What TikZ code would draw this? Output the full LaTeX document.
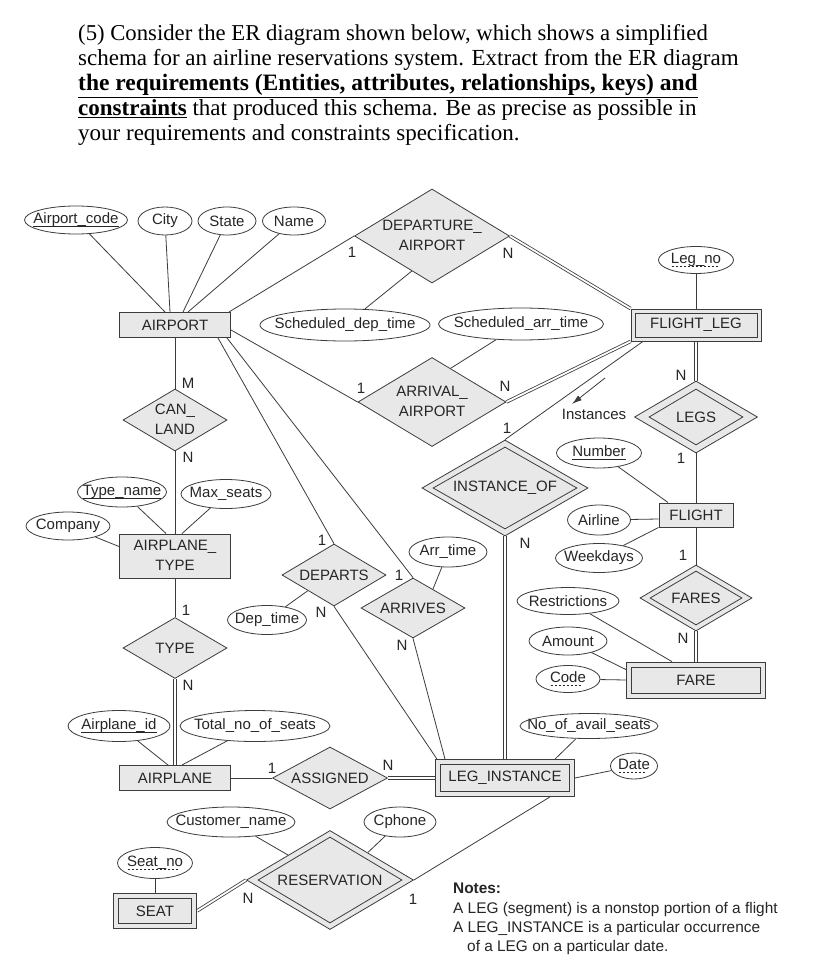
\documentclass[tikz,border=0pt]{standalone}
\usepackage{fontspec}
\setmainfont{Liberation Sans}
\newfontfamily\hdr{Liberation Serif}
\usetikzlibrary{shapes.geometric,calc,arrows.meta,backgrounds}
\definecolor{fillg}{HTML}{E8E8E8}
\definecolor{linec}{HTML}{3C3C3C}
\definecolor{txtc}{HTML}{262626}
\newcommand\zb[1]{\makebox[0pt]{#1}}
\newcommand\twol[2]{\raisebox{-2.5pt}{\makebox[0pt]{\begin{tabular}{@{}c@{}}#1\\#2\end{tabular}}}}
\newcommand\sul[1]{{\setbox0\hbox{#1}\rlap{\vrule height -2.3pt depth 3.3pt width \wd0}\box0}}
\newcommand\dul[1]{{\setbox0\hbox{#1}\rlap{\hbox to\wd0{\leaders\hbox to 4pt{\hss\vrule height -2.3pt depth 3.2pt width 2.6pt\hss}\hfill}}\box0}}
\tikzset{
 basefig/.style={draw=linec, line width=0.8pt, inner sep=0pt, text=txtc, font=\fontsize{15}{20}\selectfont},
 ent/.style={basefig, rectangle, fill=fillg, line width=1pt},
 went/.style={basefig, rectangle, fill=fillg},
 wentin/.style={draw=linec, line width=0.8pt, rectangle, inner sep=0pt},
 rel/.style={basefig, diamond, fill=fillg},
 wrelin/.style={draw=linec, line width=0.8pt, diamond, inner sep=0pt},
 attr/.style={basefig, ellipse, fill=white},
 conn/.style={draw=linec, line width=0.8pt},
 dconn/.style={conn, double=white, double distance=1.8pt},
 card/.style={text=txtc, font=\fontsize{15}{18}\selectfont, inner sep=0pt},
 hd/.style={anchor=base west, inner sep=0pt, text=black, font=\hdr\fontsize{23}{26}\selectfont},
 note/.style={anchor=base west, inner sep=0pt, text=txtc, font=\fontsize{15.4}{19}\selectfont},
}
\begin{document}
\begin{tikzpicture}[x=1pt,y=-1pt]
\useasboundingbox (0,0) rectangle (819,960);

% header
\node[hd, font=\hdr\fontsize{22.7}{26}\selectfont] (h1) at (78,41) {(5) Consider the ER diagram shown below, which shows a simplified};
\node[hd] (h2) at (78,66) {schema for an airline reservations system. Extract from the ER diagram};
\node[hd, font=\hdr\fontsize{23.5}{26}\selectfont] (h3) at (78,91) {\underline{\textbf{the requirements (Entities, attributes, relationships, keys) and}}};
\node[hd] (h4) at (78,116) {\underline{\textbf{constraints}} that produced this schema. Be as precise as possible in};
\node[hd] (h5) at (78,141) {your requirements and constraints specification.};

% entities
\node[ent, minimum width=111pt, minimum height=25pt] (ap) at (175,325) {AIRPORT};
\node[went, minimum width=130pt, minimum height=32pt] (fl) at (696,325) {FLIGHT\_LEG};
\node[wentin, minimum width=122pt, minimum height=24pt] (flin) at (fl) {};
\node[ent, minimum width=74pt, minimum height=24pt] (flight) at (696,515) {FLIGHT};
\node[went, minimum width=139pt, minimum height=36pt] (fare) at (696,680) {FARE};
\node[wentin, minimum width=129pt, minimum height=26pt] (farein) at (fare) {};
\node[went, minimum width=139pt, minimum height=37pt] (li) at (505,778) {LEG\_INSTANCE};
\node[wentin, minimum width=129pt, minimum height=27pt] (liin) at (li) {};
\node[ent, minimum width=111pt, minimum height=44pt] (apt) at (175,556) {\twol{AIRPLANE\_}{TYPE}};
\node[ent, minimum width=111pt, minimum height=25pt] (apl) at (175,778) {AIRPLANE};
\node[went, minimum width=83pt, minimum height=35pt] (seat) at (155,911) {SEAT};
\node[wentin, minimum width=73pt, minimum height=25pt] (seatin) at (seat) {};

% relationships
\node[rel, minimum width=155pt, minimum height=94pt] (dep) at (432,236) {\twol{DEPARTURE\_}{AIRPORT}};
\node[rel, minimum width=148pt, minimum height=89pt] (arr) at (432,402) {\twol{ARRIVAL\_}{AIRPORT}};
\node[rel, minimum width=166pt, minimum height=96pt] (inst) at (505,488) {\zb{INSTANCE\_OF}};
\node[wrelin, minimum width=144pt, minimum height=82pt] (instin) at (inst) {};
\node[rel, minimum width=123pt, minimum height=72pt] (legs) at (696,417) {\zb{LEGS}};
\node[wrelin, minimum width=94pt, minimum height=56pt] (legsin) at (legs) {};
\node[rel, minimum width=112pt, minimum height=66pt] (fares) at (696,598) {\zb{FARES}};
\node[wrelin, minimum width=92pt, minimum height=54pt] (faresin) at (fares) {};
\node[rel, minimum width=167pt, minimum height=99pt] (res) at (330,880) {\zb{RESERVATION}};
\node[wrelin, minimum width=144pt, minimum height=86pt] (resin) at (res) {};
\node[rel, minimum width=104pt, minimum height=62pt] (canland) at (175,420) {\twol{CAN\_}{LAND}};
\node[rel, minimum width=104pt, minimum height=61pt] (type) at (175,648) {\zb{TYPE}};
\node[rel, minimum width=104pt, minimum height=62pt] (departs) at (334,575) {\zb{DEPARTS}};
\node[rel, minimum width=104pt, minimum height=60pt] (arrives) at (413,608) {\zb{ARRIVES}};
\node[rel, minimum width=115pt, minimum height=62pt] (asg) at (330,778) {\zb{ASSIGNED}};

% attributes
\node[attr, minimum width=103pt, minimum height=28pt] (ac) at (76,220) {\zb{\sul{Airport\_code}}};
\node[attr, minimum width=54pt, minimum height=28pt] (city) at (165,221) {\zb{City}};
\node[attr, minimum width=58pt, minimum height=28pt] (state) at (227,221) {\zb{State}};
\node[attr, minimum width=63pt, minimum height=28pt] (name) at (294,221) {\zb{Name}};
\node[attr, minimum width=170pt, minimum height=32pt] (sdt) at (345,325) {\zb{Scheduled\_dep\_time}};
\node[attr, minimum width=165pt, minimum height=32pt] (sat) at (521,324) {\zb{Scheduled\_arr\_time}};
\node[attr, minimum width=75pt, minimum height=27pt] (legno) at (696,260) {\zb{\dul{Leg\_no}}};
\node[attr, minimum width=85pt, minimum height=30pt] (num) at (599,453) {\zb{\sul{Number}}};
\node[attr, minimum width=63pt, minimum height=30pt] (airline) at (599,520) {\zb{Airline}};
\node[attr, minimum width=87pt, minimum height=29pt] (weekdays) at (599,558) {\zb{Weekdays}};
\node[attr, minimum width=102pt, minimum height=27pt] (restr) at (568,601) {\zb{Restrictions}};
\node[attr, minimum width=78pt, minimum height=28pt] (amount) at (568,641) {\zb{Amount}};
\node[attr, minimum width=64pt, minimum height=27pt] (code) at (568,679) {\zb{\dul{Code}}};
\node[attr, minimum width=138pt, minimum height=25pt] (avail) at (589,726) {\zb{No\_of\_avail\_seats}};
\node[attr, minimum width=47pt, minimum height=26pt] (date) at (634,766) {\zb{\dul{Date}}};
\node[attr, minimum width=78pt, minimum height=30pt] (arrtime) at (448,552) {\zb{Arr\_time}};
\node[attr, minimum width=79pt, minimum height=29pt] (deptime) at (267,620) {\zb{Dep\_time}};
\node[attr, minimum width=89pt, minimum height=30pt] (typename) at (122,492) {\zb{\sul{Type\_name}}};
\node[attr, minimum width=90pt, minimum height=29pt] (maxseats) at (226,494) {\zb{Max\_seats}};
\node[attr, minimum width=84pt, minimum height=28pt] (company) at (68,526) {\zb{Company}};
\node[attr, minimum width=102pt, minimum height=31pt] (aplid) at (119,726) {\zb{\sul{Airplane\_id}}};
\node[attr, minimum width=150pt, minimum height=31pt] (totseats) at (255,726) {\zb{Total\_no\_of\_seats}};
\node[attr, minimum width=128pt, minimum height=30pt] (cname) at (231,822) {\zb{Customer\_name}};
\node[attr, minimum width=72pt, minimum height=30pt] (cphone) at (400,822) {\zb{Cphone}};
\node[attr, minimum width=75pt, minimum height=31pt] (seatno) at (155,863) {\zb{\dul{Seat\_no}}};

% instances arrow
\coordinate (ia) at (605,378);
\coordinate (ib) at (572,404);
\node[card] (instl) at (594,414) {Instances};

% cardinalities
\node[card] (k1) at (352,252) {1};
\node[card] (k2) at (508,253) {N};
\node[card] (k3) at (361,388) {1};
\node[card] (k4) at (505,386) {N};
\node[card] (k5) at (507,428) {1};
\node[card] (k6) at (681,375) {N};
\node[card] (k7) at (681,458) {1};
\node[card] (k8) at (525,543) {N};
\node[card] (k9) at (683,555) {1};
\node[card] (k10) at (683,638) {N};
\node[card] (k11) at (188,383) {M};
\node[card] (k12) at (188,457) {N};
\node[card] (k13) at (186,610) {1};
\node[card] (k14) at (188,685) {N};
\node[card] (k15) at (322,540) {1};
\node[card] (k16) at (399,575) {1};
\node[card] (k17) at (321,612) {N};
\node[card] (k18) at (402,645) {N};
\node[card] (k19) at (272,768) {1};
\node[card] (k20) at (388,765) {N};
\node[card] (k21) at (248,898) {N};
\node[card] (k22) at (413,899) {1};

% notes
\node[note] (n1) at (453,893) {\textbf{Notes:}};
\node[note] (n2) at (453,913) {A LEG (segment) is a nonstop portion of a flight};
\node[note] (n3) at (453,932) {A LEG\_INSTANCE is a particular occurrence};
\node[note] (n4) at (467,951) {of a LEG on a particular date.};

\begin{pgfonlayer}{background}
\fill[white] (0,0) rectangle (819,960);
\draw[conn] (ac) -- ([xshift=-10pt]ap.north);
\draw[conn] (city) -- ([xshift=-5pt]ap.north);
\draw[conn] (state) -- ([xshift=8pt]ap.north);
\draw[conn] (name) -- ([xshift=13pt]ap.north);
\draw[conn] ([xshift=-2pt]ap.north east) -- (dep.west);
\draw[dconn] (dep.east) -- (fl.north west);
\draw[conn] (sdt) -- ($(dep.south)!0.26!(dep.west)$);
\draw[conn] ([yshift=-5pt]ap.east) -- (arr.west);
\draw[dconn] (arr.east) -- (fl.south west);
\draw[conn] (sat) -- ($(arr.north)!0.25!(arr.east)$);
\draw[conn] (legno) -- (fl);
\draw[conn] ([xshift=-53pt]fl.south) -- (inst.north);
\draw[conn, -{Latex[length=10pt,width=6pt]}] (ia) -- (ib);
\draw[dconn] (fl.south) -- (legs.north);
\draw[conn] (legs.south) -- (flight.north);
\draw[conn] (num) -- ([xshift=-28pt]flight.north);
\draw[conn] (airline) -- ([yshift=-4pt]flight.west);
\draw[conn] (weekdays) -- (flight.south west);
\draw[conn] (flight.south) -- (fares.north);
\draw[dconn] (fares.south) -- (fare.north);
\draw[conn] (restr) -- ([xshift=-24pt]fare.north);
\draw[conn] (amount) -- ([yshift=-8pt]fare.north west);
\draw[conn] (code) -- (fare.west);
\draw[dconn] (inst.south) -- (li.north);
\draw[conn] (avail) -- ([xshift=50pt]li.north);
\draw[conn] (date) -- (li.east);
\draw[conn] ([xshift=45pt]li.south) -- (res.east);
\draw[conn] ([xshift=43pt]ap.south) -- (departs.north);
\draw[conn] ([xshift=52pt]ap.south) -- (arrives.north);
\draw[conn] (departs.south) -- ([xshift=-68pt]li.north);
\draw[conn] (arrives.south) -- ([xshift=-60pt]li.north);
\draw[conn] (arrtime) -- ($(arrives.north)!0.38!(arrives.east)$);
\draw[conn] (deptime) -- ($(departs.south)!0.5!(departs.west)$);
\draw[conn] (ap.south) -- (canland.north);
\draw[conn] (canland.south) -- (apt.north);
\draw[conn] (typename) -- ([xshift=-9pt]apt.north);
\draw[conn] (maxseats) -- ([xshift=7pt]apt.north);
\draw[conn] (company) -- ([yshift=-13pt]apt.north west);
\draw[conn] (apt.south) -- (type.north);
\draw[dconn] (type.south) -- (apl.north);
\draw[conn] (aplid) -- ([xshift=-7pt]apl.north);
\draw[conn] (totseats) -- ([xshift=7pt]apl.north);
\draw[conn] (apl.east) -- (asg.west);
\draw[dconn] (asg.east) -- (li.west);
\draw[dconn] (seat.east) -- (res.west);
\draw[conn] (seatno) -- (seat);
\draw[conn] (cname) -- ($(res.north)!0.5!(res.west)$);
\draw[conn] (cphone) -- ($(res.north)!0.45!(res.east)$);
\end{pgfonlayer}
\end{tikzpicture}
\end{document}
